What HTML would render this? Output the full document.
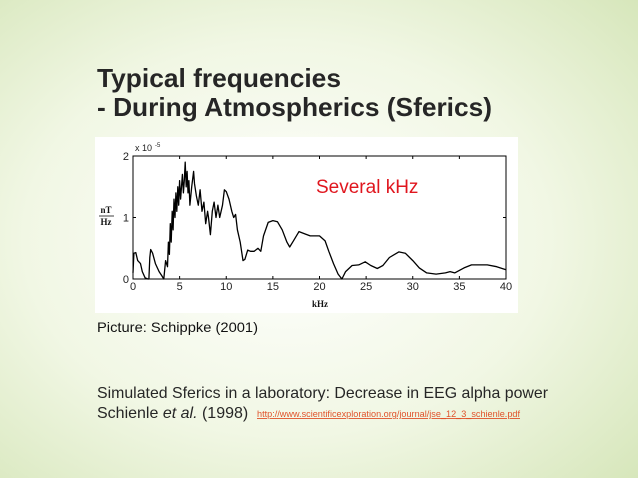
<!DOCTYPE html>
<html><head><meta charset="utf-8"><style>
html,body{margin:0;padding:0;width:638px;height:478px;overflow:hidden}
svg{display:block}
</style></head><body>
<svg width="638" height="478" viewBox="0 0 638 478" xmlns="http://www.w3.org/2000/svg">
<defs>
<radialGradient id="bg" cx="0.45" cy="0.5" r="0.75">
<stop offset="0" stop-color="#ffffff"/><stop offset="0.55" stop-color="#f1f7e4"/><stop offset="1" stop-color="#d6e6ba"/>
</radialGradient>
</defs>
<rect width="638" height="478" fill="url(#bg)"/>
<g font-family="Liberation Sans, sans-serif" fill="#262626" font-size="26" font-weight="bold">
<text x="97" y="87" textLength="244" lengthAdjust="spacingAndGlyphs">Typical frequencies</text>
<text x="97" y="116" textLength="395" lengthAdjust="spacingAndGlyphs">- During Atmospherics (Sferics)</text>
</g>
<rect x="95" y="137" width="423" height="176" fill="#fff"/>
<g id="chart"></g>
<text x="97" y="332" font-family="Liberation Sans, sans-serif" font-size="14" fill="#111" textLength="161" lengthAdjust="spacingAndGlyphs">Picture: Schippke (2001)</text>
<text x="97" y="398" font-family="Liberation Sans, sans-serif" font-size="16" fill="#262626" textLength="451" lengthAdjust="spacingAndGlyphs">Simulated Sferics in a laboratory: Decrease in EEG alpha power</text>
<text x="97" y="418" font-family="Liberation Sans, sans-serif" font-size="16" fill="#262626"><tspan>Schienle </tspan><tspan font-style="italic">et al.</tspan><tspan> (1998)</tspan></text>
<text x="257" y="417" font-family="Liberation Sans, sans-serif" font-size="9" fill="#e0532b" text-decoration="underline" textLength="263" lengthAdjust="spacingAndGlyphs">http://www.scientificexploration.org/journal/jse_12_3_schienle.pdf</text>
</svg>
<script>
const freqs=[0,0.1,0.3,0.5,0.8,1.0,1.3,1.6,1.7,1.8,1.9,2.1,2.4,2.8,3.1,3.3,3.5,3.7,3.8,3.9,4.0,4.1,4.2,4.3,4.4,4.5,4.6,4.7,4.8,4.9,5.0,5.1,5.3,5.4,5.5,5.6,5.7,5.8,5.9,6.0,6.1,6.3,6.5,6.6,6.8,7.0,7.2,7.4,7.6,7.8,8.0,8.1,8.3,8.5,8.7,8.9,9.1,9.3,9.6,9.8,10.0,10.3,10.6,10.8,11.0,11.2,11.5,11.8,12.0,12.3,12.6,13.0,13.4,13.7,14.0,14.5,15.0,15.5,16.0,16.5,16.8,17.2,17.8,18.5,19.0,20.0,20.6,21.0,21.5,22.0,22.4,22.8,23.5,24.2,24.9,25.5,26.2,26.8,27.5,28.5,29.2,30.0,30.7,31.5,32.5,33.5,34.0,34.5,35.5,36.3,38.0,39.0,40.0];
const amps=[0.1,0.42,0.43,0.3,0.25,0.12,0.02,0,0,0.35,0.48,0.42,0.25,0.12,0.05,0,0.3,0.2,0.6,0.4,0.9,0.6,1.1,0.8,1.3,1.0,1.4,1.1,1.5,1.2,1.6,1.3,1.7,1.4,1.6,1.9,1.5,1.75,1.4,1.6,1.2,1.5,1.75,1.55,1.35,1.2,1.45,1.1,1.25,0.9,1.1,1.0,0.72,1.1,1.25,1.0,1.2,1.0,1.2,1.45,1.42,1.3,1.1,1.0,1.05,0.8,0.6,0.3,0.32,0.47,0.45,0.45,0.5,0.45,0.7,0.92,0.95,0.93,0.8,0.6,0.52,0.62,0.77,0.73,0.7,0.7,0.62,0.45,0.25,0.08,0,0.12,0.22,0.23,0.28,0.22,0.17,0.22,0.35,0.44,0.42,0.3,0.18,0.1,0.08,0.1,0.12,0.1,0.18,0.23,0.23,0.2,0.15];
const xTicks=[0,5,10,15,20,25,30,35,40];
const yTicks=[0,1,2];
const NS='http://www.w3.org/2000/svg';
const L=133,R=506,T=156,B=279;
const sx=v=>L+(v/40)*(R-L), sy=v=>B-(v/2)*(B-T);
const g=document.getElementById('chart');
function mk(tag,attrs,txt){const e=document.createElementNS(NS,tag);for(const k in attrs)e.setAttribute(k,attrs[k]);if(txt!==undefined)e.textContent=txt;g.appendChild(e);return e;}
const box=mk('rect',{x:L,y:T,width:R-L,height:B-T,fill:'none',stroke:'#000','stroke-width':1});


xTicks.forEach(t=>{
 const l=mk('path',{d:`M${sx(t)} ${B}v-3M${sx(t)} ${T}v3`,stroke:'#000','stroke-width':1});
 
 
 const tx=mk('text',{x:sx(t),y:B+11,'text-anchor':'middle','font-family':'Liberation Sans, sans-serif','font-size':11,fill:'#222'},t);
 
 
});
yTicks.forEach(t=>{
 const l=mk('path',{d:`M${L} ${sy(t)}h3M${R} ${sy(t)}h-3`,stroke:'#000','stroke-width':1});
 
 
 const tx=mk('text',{x:L-4,y:sy(t)+4,'text-anchor':'end','font-family':'Liberation Sans, sans-serif','font-size':11,fill:'#222'},t);
 
 
});
const d=freqs.map((f,i)=>(i?'L':'M')+sx(f).toFixed(1)+' '+sy(amps[i]).toFixed(1)).join('');
const line=mk('path',{d:d,fill:'none',stroke:'#000','stroke-width':1.3,'stroke-linejoin':'round'});


const ex=mk('text',{x:135,y:151,'font-family':'Liberation Sans, sans-serif','font-size':9,fill:'#222'},'x 10');


const ex2=mk('text',{x:155,y:147,'font-family':'Liberation Sans, sans-serif','font-size':6,fill:'#222'},'-5');


const yt1=mk('text',{x:106,y:213,'text-anchor':'middle','font-family':'Liberation Serif, serif','font-weight':'bold','font-size':9,fill:'#111'},'nT');


const yl=mk('path',{d:'M99 216h15',stroke:'#111','stroke-width':0.8});


const yt2=mk('text',{x:106,y:225,'text-anchor':'middle','font-family':'Liberation Serif, serif','font-weight':'bold','font-size':9,fill:'#111'},'Hz');


const xt=mk('text',{x:320,y:307,'text-anchor':'middle','font-family':'Liberation Serif, serif','font-weight':'bold','font-size':9,fill:'#111'},'kHz');


const ann=mk('text',{x:316,y:193,'font-family':'Liberation Sans, sans-serif','font-size':19,fill:'#e0161e'},'Several kHz');


</script>
</body></html>
